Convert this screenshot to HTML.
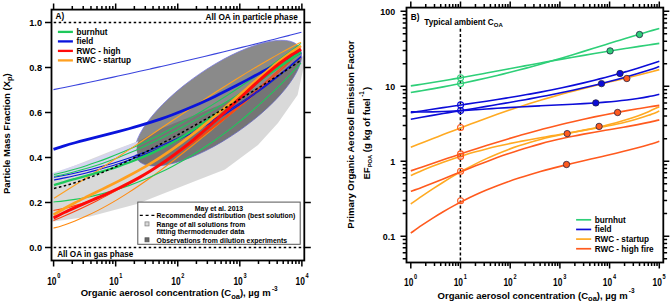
<!DOCTYPE html>
<html><head><meta charset="utf-8"><style>
html,body{margin:0;padding:0;background:#fff;width:671px;height:303px;overflow:hidden}
svg{display:block}
text{font-family:"Liberation Sans", sans-serif;font-variant-ligatures:none}
</style></head><body><svg width="671" height="303" viewBox="0 0 671 303" font-family='"Liberation Sans", sans-serif' fill="#000"><defs><clipPath id="clipL"><rect x="51.5" y="9.6" width="252.8" height="250.9"/></clipPath>
<clipPath id="clipR"><rect x="406.5" y="7.5" width="257" height="255.5"/></clipPath></defs>
<g clip-path="url(#clipL)">
<ellipse cx="218.2" cy="103.1" rx="98.5" ry="34.6" transform="rotate(-34.67 218.2 103.1)" fill="#8a8a8a" stroke="#7a7ae0" stroke-width="0.9" stroke-opacity="0.8"/>
<path d="M51 222 L53.5 221.4 L90.0 216.4 L137.0 204.0 L198.0 180.0 L225.0 169.5 L258.0 145.0 L278.0 123.0 L297.6 95.0 L303.0 70.0 L305 68 L305 55 L303.0 56.0 L275.0 79.0 L220.0 105.0 L160.0 129.0 L140.0 140.5 L110.0 151.5 L53.5 174.0 L51 174 Z" fill="#000" fill-opacity="0.15"/>
<path d="M51.0 173.5 L90.0 160.5 L138.5 141.0 L137.0 145.0 L136.5 150.0 L137.5 154.0 L90.0 169.5 L51.0 178.5 Z" fill="#d6d6ef"/>
<path d="M53.50 89.65 C55.30 89.28 60.69 88.19 64.28 87.45 C67.87 86.72 71.46 85.98 75.06 85.23 C78.65 84.48 82.24 83.73 85.83 82.98 C89.43 82.22 93.02 81.46 96.61 80.70 C100.21 79.94 103.80 79.17 107.39 78.39 C110.98 77.62 114.58 76.84 118.17 76.06 C121.76 75.28 125.36 74.49 128.95 73.70 C132.54 72.91 136.13 72.12 139.73 71.32 C143.32 70.52 146.91 69.71 150.50 68.90 C154.10 68.09 157.69 67.28 161.28 66.46 C164.88 65.64 168.47 64.82 172.06 63.99 C175.65 63.16 179.25 62.33 182.84 61.50 C186.43 60.66 190.02 59.82 193.62 58.97 C197.21 58.13 200.80 57.28 204.40 56.42 C207.99 55.57 211.58 54.71 215.17 53.85 C218.77 52.98 222.36 52.12 225.95 51.24 C229.54 50.37 233.14 49.49 236.73 48.61 C240.32 47.73 243.92 46.84 247.51 45.95 C251.10 45.06 254.69 44.17 258.29 43.27 C261.88 42.37 265.47 41.46 269.07 40.56 C272.66 39.65 276.25 38.73 279.84 37.82 C283.44 36.90 287.03 35.98 290.62 35.05 C294.21 34.12 299.60 32.72 301.40 32.25" fill="none" stroke="#3a44dd" stroke-width="1.1" stroke-linecap="butt" stroke-linejoin="round" />
<path d="M53.50 228.18 C55.29 227.64 60.67 226.11 64.26 224.90 C67.85 223.70 71.43 222.37 75.02 220.94 C78.61 219.51 82.20 217.97 85.78 216.34 C89.37 214.70 92.96 212.96 96.54 211.13 C100.13 209.31 103.72 207.38 107.30 205.38 C110.89 203.37 114.48 201.28 118.07 199.11 C121.65 196.94 125.24 194.69 128.83 192.38 C132.41 190.07 136.00 187.67 139.59 185.23 C143.17 182.78 146.76 180.26 150.35 177.70 C153.93 175.13 157.52 172.51 161.11 169.84 C164.70 167.17 168.28 164.44 171.87 161.69 C175.46 158.93 179.04 156.13 182.63 153.30 C186.22 150.46 189.80 147.59 193.39 144.70 C196.98 141.81 200.57 138.89 204.15 135.96 C207.74 133.02 211.33 130.06 214.91 127.10 C218.50 124.13 222.09 121.15 225.67 118.17 C229.26 115.19 232.85 112.21 236.43 109.23 C240.02 106.25 243.61 103.27 247.20 100.30 C250.78 97.34 254.37 94.38 257.96 91.44 C261.54 88.51 265.13 85.59 268.72 82.70 C272.30 79.81 275.89 76.93 279.48 74.10 C283.07 71.27 286.65 68.47 290.24 65.71 C293.83 62.95 299.21 58.92 301.00 57.56" fill="none" stroke="#ff8a10" stroke-width="1.1" stroke-linecap="butt" stroke-linejoin="round" />
<path d="M53.50 201.98 C55.29 201.80 60.67 201.32 64.26 200.88 C67.85 200.45 71.43 199.95 75.02 199.38 C78.61 198.81 82.20 198.18 85.78 197.47 C89.37 196.76 92.96 195.99 96.54 195.14 C100.13 194.30 103.72 193.38 107.30 192.40 C110.89 191.41 114.48 190.35 118.07 189.22 C121.65 188.09 125.24 186.89 128.83 185.61 C132.41 184.33 136.00 182.99 139.59 181.56 C143.17 180.13 146.76 178.63 150.35 177.06 C153.93 175.48 157.52 173.83 161.11 172.10 C164.70 170.37 168.28 168.57 171.87 166.68 C175.46 164.80 179.04 162.83 182.63 160.79 C186.22 158.75 189.80 156.63 193.39 154.42 C196.98 152.22 200.57 149.94 204.15 147.58 C207.74 145.21 211.33 142.76 214.91 140.24 C218.50 137.71 222.09 135.09 225.67 132.40 C229.26 129.70 232.85 126.92 236.43 124.06 C240.02 121.19 243.61 118.24 247.20 115.21 C250.78 112.17 254.37 109.05 257.96 105.84 C261.54 102.63 265.13 99.33 268.72 95.94 C272.30 92.56 275.89 89.08 279.48 85.52 C283.07 81.95 286.65 78.30 290.24 74.55 C293.83 70.81 299.21 64.96 301.00 63.05" fill="none" stroke="#1ec85a" stroke-width="1.1" stroke-linecap="butt" stroke-linejoin="round" />
<path d="M53.50 210.50 C55.29 210.14 60.67 209.17 64.26 208.35 C67.85 207.54 71.43 206.62 75.02 205.60 C78.61 204.59 82.20 203.47 85.78 202.27 C89.37 201.07 92.96 199.77 96.54 198.38 C100.13 197.00 103.72 195.52 107.30 193.96 C110.89 192.40 114.48 190.76 118.07 189.03 C121.65 187.31 125.24 185.50 128.83 183.61 C132.41 181.73 136.00 179.76 139.59 177.73 C143.17 175.69 146.76 173.58 150.35 171.41 C153.93 169.23 157.52 166.98 161.11 164.66 C164.70 162.35 168.28 159.97 171.87 157.52 C175.46 155.08 179.04 152.58 182.63 150.01 C186.22 147.45 189.80 144.83 193.39 142.15 C196.98 139.48 200.57 136.75 204.15 133.97 C207.74 131.19 211.33 128.36 214.91 125.48 C218.50 122.60 222.09 119.67 225.67 116.71 C229.26 113.74 232.85 110.73 236.43 107.68 C240.02 104.63 243.61 101.54 247.20 98.42 C250.78 95.30 254.37 92.13 257.96 88.94 C261.54 85.76 265.13 82.53 268.72 79.28 C272.30 76.03 275.89 72.75 279.48 69.45 C283.07 66.15 286.65 62.83 290.24 59.48 C293.83 56.14 299.21 51.08 301.00 49.39" fill="none" stroke="#ff4010" stroke-width="1.1" stroke-linecap="butt" stroke-linejoin="round" />
<path d="M53.50 220.61 C55.29 219.84 60.67 217.58 64.26 216.01 C67.85 214.45 71.43 212.84 75.02 211.20 C78.61 209.56 82.20 207.88 85.78 206.16 C89.37 204.44 92.96 202.69 96.54 200.89 C100.13 199.09 103.72 197.26 107.30 195.38 C110.89 193.51 114.48 191.60 118.07 189.64 C121.65 187.68 125.24 185.69 128.83 183.65 C132.41 181.61 136.00 179.53 139.59 177.41 C143.17 175.29 146.76 173.13 150.35 170.92 C153.93 168.71 157.52 166.46 161.11 164.17 C164.70 161.87 168.28 159.53 171.87 157.15 C175.46 154.77 179.04 152.34 182.63 149.87 C186.22 147.40 189.80 144.88 193.39 142.31 C196.98 139.75 200.57 137.14 204.15 134.48 C207.74 131.82 211.33 129.12 214.91 126.36 C218.50 123.61 222.09 120.81 225.67 117.96 C229.26 115.11 232.85 112.21 236.43 109.26 C240.02 106.32 243.61 103.32 247.20 100.27 C250.78 97.22 254.37 94.13 257.96 90.98 C261.54 87.83 265.13 84.63 268.72 81.38 C272.30 78.13 275.89 74.83 279.48 71.47 C283.07 68.11 286.65 64.71 290.24 61.25 C293.83 57.78 299.21 52.46 301.00 50.70" fill="none" stroke="#ff4010" stroke-width="1.1" stroke-linecap="butt" stroke-linejoin="round" />
<path d="M54.00 177.24 C55.79 176.90 61.16 175.94 64.74 175.24 C68.32 174.53 71.90 173.78 75.48 173.00 C79.06 172.21 82.64 171.38 86.22 170.51 C89.80 169.64 93.38 168.73 96.96 167.78 C100.54 166.82 104.12 165.82 107.70 164.78 C111.28 163.73 114.86 162.64 118.43 161.51 C122.01 160.37 125.59 159.19 129.17 157.96 C132.75 156.73 136.33 155.45 139.91 154.12 C143.49 152.80 147.07 151.42 150.65 149.99 C154.23 148.57 157.81 147.09 161.39 145.56 C164.97 144.03 168.55 142.45 172.13 140.81 C175.71 139.18 179.29 137.49 182.87 135.75 C186.45 134.00 190.03 132.21 193.61 130.35 C197.19 128.50 200.77 126.59 204.35 124.62 C207.93 122.65 211.51 120.63 215.09 118.55 C218.67 116.46 222.25 114.32 225.83 112.12 C229.41 109.91 232.99 107.65 236.57 105.33 C240.14 103.00 243.72 100.62 247.30 98.17 C250.88 95.72 254.46 93.20 258.04 90.63 C261.62 88.05 265.20 85.41 268.78 82.70 C272.36 79.99 275.94 77.22 279.52 74.38 C283.10 71.54 286.68 68.63 290.26 65.66 C293.84 62.68 299.21 58.05 301.00 56.52" fill="none" stroke="#0a14dc" stroke-width="1.1" stroke-linecap="butt" stroke-linejoin="round" />
<path d="M54.00 179.98 C55.79 179.63 61.16 178.61 64.74 177.87 C68.32 177.13 71.90 176.36 75.48 175.54 C79.06 174.72 82.64 173.87 86.22 172.97 C89.80 172.07 93.38 171.14 96.96 170.15 C100.54 169.17 104.12 168.15 107.70 167.08 C111.28 166.01 114.86 164.90 118.43 163.74 C122.01 162.59 125.59 161.38 129.17 160.13 C132.75 158.88 136.33 157.58 139.91 156.23 C143.49 154.89 147.07 153.49 150.65 152.04 C154.23 150.59 157.81 149.10 161.39 147.55 C164.97 146.00 168.55 144.39 172.13 142.74 C175.71 141.08 179.29 139.37 182.87 137.61 C186.45 135.84 190.03 134.02 193.61 132.14 C197.19 130.26 200.77 128.33 204.35 126.33 C207.93 124.34 211.51 122.29 215.09 120.18 C218.67 118.06 222.25 115.89 225.83 113.66 C229.41 111.42 232.99 109.13 236.57 106.77 C240.14 104.40 243.72 101.98 247.30 99.49 C250.88 97.01 254.46 94.45 258.04 91.83 C261.62 89.21 265.20 86.53 268.78 83.77 C272.36 81.02 275.94 78.20 279.52 75.30 C283.10 72.41 286.68 69.45 290.26 66.42 C293.84 63.38 299.21 58.65 301.00 57.10" fill="none" stroke="#0a14dc" stroke-width="1.1" stroke-linecap="butt" stroke-linejoin="round" />
<path d="M54.00 174.57 C55.79 174.13 61.16 172.89 64.74 171.96 C68.32 171.03 71.90 170.04 75.48 169.00 C79.06 167.95 82.64 166.85 86.22 165.70 C89.80 164.54 93.38 163.33 96.96 162.07 C100.54 160.81 104.12 159.49 107.70 158.12 C111.28 156.75 114.86 155.33 118.43 153.86 C122.01 152.39 125.59 150.86 129.17 149.30 C132.75 147.73 136.33 146.11 139.91 144.44 C143.49 142.78 147.07 141.06 150.65 139.31 C154.23 137.55 157.81 135.75 161.39 133.90 C164.97 132.06 168.55 130.16 172.13 128.23 C175.71 126.30 179.29 124.33 182.87 122.31 C186.45 120.30 190.03 118.24 193.61 116.15 C197.19 114.06 200.77 111.92 204.35 109.76 C207.93 107.59 211.51 105.38 215.09 103.14 C218.67 100.90 222.25 98.62 225.83 96.31 C229.41 94.00 232.99 91.65 236.57 89.27 C240.14 86.89 243.72 84.48 247.30 82.04 C250.88 79.60 254.46 77.13 258.04 74.63 C261.62 72.13 265.20 69.60 268.78 67.05 C272.36 64.49 275.94 61.91 279.52 59.30 C283.10 56.69 286.68 54.05 290.26 51.39 C293.84 48.73 299.21 44.69 301.00 43.34" fill="none" stroke="#1ec85a" stroke-width="1.1" stroke-linecap="butt" stroke-linejoin="round" />
<path d="M54.00 176.38 C55.79 176.01 61.16 174.97 64.74 174.17 C68.32 173.37 71.90 172.49 75.48 171.56 C79.06 170.62 82.64 169.62 86.22 168.57 C89.80 167.51 93.38 166.38 96.96 165.21 C100.54 164.03 104.12 162.79 107.70 161.50 C111.28 160.20 114.86 158.85 118.43 157.45 C122.01 156.05 125.59 154.59 129.17 153.09 C132.75 151.59 136.33 150.03 139.91 148.43 C143.49 146.82 147.07 145.17 150.65 143.48 C154.23 141.78 157.81 140.04 161.39 138.26 C164.97 136.48 168.55 134.65 172.13 132.78 C175.71 130.92 179.29 129.01 182.87 127.07 C186.45 125.13 190.03 123.15 193.61 121.14 C197.19 119.13 200.77 117.08 204.35 115.00 C207.93 112.92 211.51 110.81 215.09 108.67 C218.67 106.54 222.25 104.37 225.83 102.17 C229.41 99.98 232.99 97.76 236.57 95.51 C240.14 93.27 243.72 91.00 247.30 88.71 C250.88 86.42 254.46 84.11 258.04 81.79 C261.62 79.46 265.20 77.11 268.78 74.75 C272.36 72.39 275.94 70.01 279.52 67.62 C283.10 65.23 286.68 62.83 290.26 60.42 C293.84 58.00 299.21 54.36 301.00 53.15" fill="none" stroke="#1ec85a" stroke-width="1.1" stroke-linecap="butt" stroke-linejoin="round" />
<path d="M54.00 198.19 C55.79 197.08 61.16 193.81 64.74 191.58 C68.32 189.36 71.90 187.11 75.48 184.84 C79.06 182.57 82.64 180.28 86.22 177.97 C89.80 175.67 93.38 173.34 96.96 171.01 C100.54 168.67 104.12 166.32 107.70 163.95 C111.28 161.59 114.86 159.22 118.43 156.83 C122.01 154.45 125.59 152.06 129.17 149.66 C132.75 147.27 136.33 144.86 139.91 142.46 C143.49 140.05 147.07 137.64 150.65 135.23 C154.23 132.83 157.81 130.42 161.39 128.01 C164.97 125.61 168.55 123.21 172.13 120.81 C175.71 118.42 179.29 116.02 182.87 113.64 C186.45 111.27 190.03 108.89 193.61 106.53 C197.19 104.17 200.77 101.82 204.35 99.49 C207.93 97.16 211.51 94.84 215.09 92.54 C218.67 90.24 222.25 87.95 225.83 85.69 C229.41 83.42 232.99 81.18 236.57 78.96 C240.14 76.74 243.72 74.54 247.30 72.38 C250.88 70.21 254.46 68.06 258.04 65.95 C261.62 63.83 265.20 61.75 268.78 59.70 C272.36 57.64 275.94 55.62 279.52 53.64 C283.10 51.65 286.68 49.70 290.26 47.79 C293.84 45.87 299.21 43.10 301.00 42.16" fill="none" stroke="#ffa020" stroke-width="1.1" stroke-linecap="butt" stroke-linejoin="round" />
<path d="M53.50 149.39 C55.29 148.80 60.67 146.99 64.26 145.88 C67.85 144.78 71.43 143.75 75.02 142.75 C78.61 141.75 82.20 140.80 85.78 139.86 C89.37 138.92 92.96 138.03 96.54 137.12 C100.13 136.21 103.72 135.32 107.30 134.41 C110.89 133.50 114.48 132.59 118.07 131.65 C121.65 130.71 125.24 129.76 128.83 128.77 C132.41 127.78 136.00 126.76 139.59 125.70 C143.17 124.64 146.76 123.55 150.35 122.40 C153.93 121.26 157.52 120.07 161.11 118.83 C164.70 117.59 168.28 116.30 171.87 114.96 C175.46 113.62 179.04 112.22 182.63 110.77 C186.22 109.33 189.80 107.83 193.39 106.28 C196.98 104.73 200.57 103.12 204.15 101.47 C207.74 99.83 211.33 98.13 214.91 96.39 C218.50 94.66 222.09 92.87 225.67 91.06 C229.26 89.25 232.85 87.40 236.43 85.53 C240.02 83.67 243.61 81.77 247.20 79.87 C250.78 77.97 254.37 76.04 257.96 74.13 C261.54 72.22 265.13 70.30 268.72 68.41 C272.30 66.52 275.89 64.63 279.48 62.80 C283.07 60.96 286.65 59.15 290.24 57.41 C293.83 55.66 299.21 53.19 301.00 52.35" fill="none" stroke="#0a14dc" stroke-width="2.8" stroke-linecap="butt" stroke-linejoin="round" />
<path d="M54.00 185.11 C55.79 184.57 61.16 182.90 64.74 181.86 C68.32 180.81 71.90 179.83 75.48 178.84 C79.06 177.85 82.64 176.90 86.22 175.91 C89.80 174.92 93.38 173.95 96.96 172.92 C100.54 171.90 104.12 170.86 107.70 169.76 C111.28 168.66 114.86 167.53 118.43 166.33 C122.01 165.12 125.59 163.87 129.17 162.53 C132.75 161.19 136.33 159.79 139.91 158.30 C143.49 156.82 147.07 155.25 150.65 153.60 C154.23 151.95 157.81 150.22 161.39 148.39 C164.97 146.57 168.55 144.66 172.13 142.66 C175.71 140.66 179.29 138.58 182.87 136.41 C186.45 134.24 190.03 131.99 193.61 129.66 C197.19 127.34 200.77 124.93 204.35 122.46 C207.93 119.99 211.51 117.44 215.09 114.85 C218.67 112.26 222.25 109.60 225.83 106.92 C229.41 104.24 232.99 101.50 236.57 98.75 C240.14 96.01 243.72 93.22 247.30 90.46 C250.88 87.69 254.46 84.91 258.04 82.17 C261.62 79.43 265.20 76.69 268.78 74.02 C272.36 71.36 275.94 68.72 279.52 66.19 C283.10 63.66 286.68 61.18 290.26 58.84 C293.84 56.51 299.21 53.29 301.00 52.19" fill="none" stroke="#1ec85a" stroke-width="2.3" stroke-linecap="butt" stroke-linejoin="round" />
<path d="M53.50 214.75 C55.29 213.70 60.67 210.47 64.26 208.46 C67.85 206.46 71.43 204.57 75.02 202.71 C78.61 200.85 82.20 199.07 85.78 197.29 C89.37 195.51 92.96 193.78 96.54 192.03 C100.13 190.28 103.72 188.55 107.30 186.78 C110.89 185.00 114.48 183.23 118.07 181.40 C121.65 179.57 125.24 177.71 128.83 175.79 C132.41 173.86 136.00 171.90 139.59 169.85 C143.17 167.81 146.76 165.71 150.35 163.53 C153.93 161.35 157.52 159.09 161.11 156.76 C164.70 154.43 168.28 152.02 171.87 149.53 C175.46 147.04 179.04 144.47 182.63 141.83 C186.22 139.19 189.80 136.46 193.39 133.67 C196.98 130.89 200.57 128.02 204.15 125.10 C207.74 122.19 211.33 119.20 214.91 116.18 C218.50 113.15 222.09 110.07 225.67 106.97 C229.26 103.87 232.85 100.73 236.43 97.59 C240.02 94.45 243.61 91.28 247.20 88.15 C250.78 85.02 254.37 81.88 257.96 78.81 C261.54 75.74 265.13 72.67 268.72 69.72 C272.30 66.76 275.89 63.84 279.48 61.06 C283.07 58.29 286.65 55.58 290.24 53.06 C293.83 50.53 299.21 47.11 301.00 45.93" fill="none" stroke="#ffa020" stroke-width="2.7" stroke-linecap="butt" stroke-linejoin="round" />
<path d="M53.50 217.92 C55.29 217.02 60.67 214.23 64.26 212.50 C67.85 210.78 71.43 209.17 75.02 207.56 C78.61 205.96 82.20 204.43 85.78 202.88 C89.37 201.32 92.96 199.81 96.54 198.25 C100.13 196.69 103.72 195.13 107.30 193.51 C110.89 191.89 114.48 190.25 118.07 188.52 C121.65 186.80 125.24 185.03 128.83 183.16 C132.41 181.30 136.00 179.37 139.59 177.34 C143.17 175.31 146.76 173.20 150.35 170.99 C153.93 168.77 157.52 166.47 161.11 164.06 C164.70 161.65 168.28 159.14 171.87 156.54 C175.46 153.94 179.04 151.23 182.63 148.44 C186.22 145.65 189.80 142.76 193.39 139.80 C196.98 136.84 200.57 133.78 204.15 130.67 C207.74 127.56 211.33 124.37 214.91 121.14 C218.50 117.92 222.09 114.62 225.67 111.32 C229.26 108.02 232.85 104.67 236.43 101.35 C240.02 98.03 243.61 94.68 247.20 91.39 C250.78 88.10 254.37 84.81 257.96 81.62 C261.54 78.43 265.13 75.27 268.72 72.26 C272.30 69.25 275.89 66.30 279.48 63.55 C283.07 60.80 286.65 58.15 290.24 55.75 C293.83 53.35 299.21 50.25 301.00 49.15" fill="none" stroke="#ff0a0a" stroke-width="3.0" stroke-linecap="butt" stroke-linejoin="round" />
<path d="M54.00 188.45 C55.79 188.00 61.16 186.76 64.74 185.78 C68.32 184.80 71.90 183.71 75.48 182.55 C79.06 181.40 82.64 180.15 86.22 178.83 C89.80 177.52 93.38 176.13 96.96 174.69 C100.54 173.25 104.12 171.73 107.70 170.17 C111.28 168.62 114.86 167.00 118.43 165.34 C122.01 163.69 125.59 161.98 129.17 160.25 C132.75 158.51 136.33 156.73 139.91 154.92 C143.49 153.12 147.07 151.27 150.65 149.41 C154.23 147.55 157.81 145.65 161.39 143.74 C164.97 141.83 168.55 139.90 172.13 137.94 C175.71 135.99 179.29 134.02 182.87 132.03 C186.45 130.05 190.03 128.05 193.61 126.03 C197.19 124.01 200.77 121.98 204.35 119.94 C207.93 117.90 211.51 115.84 215.09 113.77 C218.67 111.70 222.25 109.62 225.83 107.52 C229.41 105.42 232.99 103.30 236.57 101.17 C240.14 99.04 243.72 96.90 247.30 94.73 C250.88 92.56 254.46 90.38 258.04 88.17 C261.62 85.96 265.20 83.73 268.78 81.46 C272.36 79.20 275.94 76.91 279.52 74.59 C283.10 72.26 286.68 69.91 290.26 67.51 C293.84 65.11 299.21 61.41 301.00 60.19" fill="none" stroke="#000" stroke-width="1.5" stroke-linecap="butt" stroke-linejoin="round" stroke-dasharray="2.6 2.4"/>
</g>
<line x1="53.7" y1="22.6" x2="304" y2="22.6" stroke="#000" stroke-width="1.5" stroke-dasharray="2.5 2.5"/>
<line x1="53.7" y1="247.4" x2="304" y2="247.4" stroke="#000" stroke-width="1.5" stroke-dasharray="2.5 2.5"/>
<rect x="51.5" y="9.6" width="252.8" height="250.9" fill="none" stroke="#000" stroke-width="1.8"/>
<path d="M53.60 260.50 V266.50 M53.60 9.60 V3.60 M72.28 260.50 V264.00 M72.28 9.60 V6.10 M83.21 260.50 V264.00 M83.21 9.60 V6.10 M90.97 260.50 V264.00 M90.97 9.60 V6.10 M96.99 260.50 V264.00 M96.99 9.60 V6.10 M101.90 260.50 V264.00 M101.90 9.60 V6.10 M106.06 260.50 V264.00 M106.06 9.60 V6.10 M109.65 260.50 V264.00 M109.65 9.60 V6.10 M112.83 260.50 V264.00 M112.83 9.60 V6.10 M115.67 260.50 V266.50 M115.67 9.60 V3.60 M134.35 260.50 V264.00 M134.35 9.60 V6.10 M145.28 260.50 V264.00 M145.28 9.60 V6.10 M153.04 260.50 V264.00 M153.04 9.60 V6.10 M159.06 260.50 V264.00 M159.06 9.60 V6.10 M163.97 260.50 V264.00 M163.97 9.60 V6.10 M168.13 260.50 V264.00 M168.13 9.60 V6.10 M171.72 260.50 V264.00 M171.72 9.60 V6.10 M174.90 260.50 V264.00 M174.90 9.60 V6.10 M177.74 260.50 V266.50 M177.74 9.60 V3.60 M196.42 260.50 V264.00 M196.42 9.60 V6.10 M207.35 260.50 V264.00 M207.35 9.60 V6.10 M215.11 260.50 V264.00 M215.11 9.60 V6.10 M221.13 260.50 V264.00 M221.13 9.60 V6.10 M226.04 260.50 V264.00 M226.04 9.60 V6.10 M230.20 260.50 V264.00 M230.20 9.60 V6.10 M233.79 260.50 V264.00 M233.79 9.60 V6.10 M236.97 260.50 V264.00 M236.97 9.60 V6.10 M239.81 260.50 V266.50 M239.81 9.60 V3.60 M258.49 260.50 V264.00 M258.49 9.60 V6.10 M269.42 260.50 V264.00 M269.42 9.60 V6.10 M277.18 260.50 V264.00 M277.18 9.60 V6.10 M283.20 260.50 V264.00 M283.20 9.60 V6.10 M288.11 260.50 V264.00 M288.11 9.60 V6.10 M292.27 260.50 V264.00 M292.27 9.60 V6.10 M295.86 260.50 V264.00 M295.86 9.60 V6.10 M299.04 260.50 V264.00 M299.04 9.60 V6.10 M301.88 260.50 V266.50 M301.88 9.60 V3.60 M51.50 247.40 H45.00 M304.30 247.40 H310.80 M51.50 202.44 H45.00 M304.30 202.44 H310.80 M51.50 157.48 H45.00 M304.30 157.48 H310.80 M51.50 112.52 H45.00 M304.30 112.52 H310.80 M51.50 67.56 H45.00 M304.30 67.56 H310.80 M51.50 22.60 H45.00 M304.30 22.60 H310.80" stroke="#000" stroke-width="1.5" fill="none"/>
<text transform="translate(42.00 250.70) scale(1 1.000)" font-size="9.2" font-weight="bold" text-anchor="end">0.0</text>
<text transform="translate(42.00 205.74) scale(1 1.000)" font-size="9.2" font-weight="bold" text-anchor="end">0.2</text>
<text transform="translate(42.00 160.78) scale(1 1.000)" font-size="9.2" font-weight="bold" text-anchor="end">0.4</text>
<text transform="translate(42.00 115.82) scale(1 1.000)" font-size="9.2" font-weight="bold" text-anchor="end">0.6</text>
<text transform="translate(42.00 70.86) scale(1 1.000)" font-size="9.2" font-weight="bold" text-anchor="end">0.8</text>
<text transform="translate(42.00 25.90) scale(1 1.000)" font-size="9.2" font-weight="bold" text-anchor="end">1.0</text>
<text transform="translate(47.20 284.90) scale(1 1.200)" font-size="8.4" font-weight="bold" text-anchor="start">10</text>
<text transform="translate(57.20 277.60) scale(1 1.160)" font-size="5.6" font-weight="bold" text-anchor="start">0</text>
<text transform="translate(109.27 284.90) scale(1 1.200)" font-size="8.4" font-weight="bold" text-anchor="start">10</text>
<text transform="translate(119.27 277.60) scale(1 1.160)" font-size="5.6" font-weight="bold" text-anchor="start">1</text>
<text transform="translate(171.34 284.90) scale(1 1.200)" font-size="8.4" font-weight="bold" text-anchor="start">10</text>
<text transform="translate(181.34 277.60) scale(1 1.160)" font-size="5.6" font-weight="bold" text-anchor="start">2</text>
<text transform="translate(233.41 284.90) scale(1 1.200)" font-size="8.4" font-weight="bold" text-anchor="start">10</text>
<text transform="translate(243.41 277.60) scale(1 1.160)" font-size="5.6" font-weight="bold" text-anchor="start">3</text>
<text transform="translate(295.48 284.90) scale(1 1.200)" font-size="8.4" font-weight="bold" text-anchor="start">10</text>
<text transform="translate(305.48 277.60) scale(1 1.160)" font-size="5.6" font-weight="bold" text-anchor="start">4</text>
<text x="80.7" y="296.4" font-size="9.5" font-weight="bold">Organic aerosol concentration (C<tspan font-size="7.5" dy="2.2">oa</tspan><tspan dy="-2.2">), µg m</tspan><tspan font-size="6.4" dy="-5.6" dx="1.2">-3</tspan></text>
<text transform="translate(9.6 194) rotate(-90)" font-size="9.5" font-weight="bold">Particle Mass Fraction (X<tspan font-size="7.5" dy="2.2">p</tspan><tspan dy="-2.2">)</tspan></text>
<text x="55.60" y="18.50" font-size="8.2" font-weight="bold" text-anchor="start" >A)</text>
<text x="297.90" y="19.80" font-size="8.25" font-weight="bold" text-anchor="end" >All OA in particle phase</text>
<text x="57.20" y="256.70" font-size="8.15" font-weight="bold" text-anchor="start" >All OA in gas phase</text>
<line x1="57.9" y1="31.90" x2="72.9" y2="31.90" stroke="#1ec85a" stroke-width="2.3"/>
<text x="76.50" y="34.90" font-size="8.2" font-weight="bold" text-anchor="start" >burnhut</text>
<line x1="57.9" y1="41.40" x2="72.9" y2="41.40" stroke="#0a14dc" stroke-width="2.3"/>
<text x="76.50" y="44.40" font-size="8.2" font-weight="bold" text-anchor="start" >field</text>
<line x1="57.9" y1="50.90" x2="72.9" y2="50.90" stroke="#ff0a0a" stroke-width="2.3"/>
<text x="76.50" y="53.90" font-size="8.2" font-weight="bold" text-anchor="start" >RWC - high</text>
<line x1="57.9" y1="60.40" x2="72.9" y2="60.40" stroke="#ffa020" stroke-width="2.3"/>
<text x="76.50" y="63.40" font-size="8.2" font-weight="bold" text-anchor="start" >RWC - startup</text>
<rect x="137.8" y="202.1" width="162.4" height="42.2" fill="#fff" stroke="#555" stroke-width="1"/>
<text x="219.00" y="210.50" font-size="6.9" font-weight="bold" text-anchor="middle" >May et al. 2013</text>
<line x1="139.8" y1="215.4" x2="154.5" y2="215.4" stroke="#000" stroke-width="1.2" stroke-dasharray="3 2.8"/>
<text x="156.60" y="218.30" font-size="6.9" font-weight="bold" text-anchor="start" >Recommended distribution (best solution)</text>
<rect x="145" y="221.9" width="4" height="4" fill="#d8d8d8" stroke="#888" stroke-width="0.8"/>
<text x="156.60" y="226.70" font-size="6.9" font-weight="bold" text-anchor="start" >Range of all solutions from</text>
<text x="156.60" y="234.20" font-size="6.9" font-weight="bold" text-anchor="start" >fitting thermodenuder data</text>
<rect x="145" y="237.8" width="4" height="4" fill="#6a6a6a" stroke="#555" stroke-width="0.8"/>
<text x="156.60" y="242.60" font-size="6.9" font-weight="bold" text-anchor="start" >Observations from dilution experiments</text>
<g clip-path="url(#clipR)">
<line x1="460.4" y1="28.8" x2="460.4" y2="263" stroke="#000" stroke-width="1.5" stroke-dasharray="3 2.2"/>
<path d="M410.80 147.22 C412.60 146.52 418.00 144.44 421.60 143.04 C425.21 141.65 428.81 140.23 432.41 138.82 C436.01 137.42 439.61 136.00 443.21 134.60 C446.81 133.19 450.42 131.78 454.02 130.39 C457.62 129.00 461.22 127.61 464.82 126.24 C468.42 124.87 472.02 123.51 475.63 122.17 C479.23 120.83 482.83 119.50 486.43 118.19 C490.03 116.89 493.63 115.60 497.23 114.34 C500.84 113.07 504.44 111.83 508.04 110.61 C511.64 109.39 515.24 108.19 518.84 107.02 C522.44 105.85 526.05 104.70 529.65 103.57 C533.25 102.45 536.85 101.35 540.45 100.27 C544.05 99.19 547.66 98.14 551.26 97.11 C554.86 96.08 558.46 95.07 562.06 94.08 C565.66 93.09 569.26 92.13 572.87 91.18 C576.47 90.23 580.07 89.30 583.67 88.38 C587.27 87.46 590.87 86.56 594.47 85.67 C598.08 84.77 601.68 83.89 605.28 83.02 C608.88 82.14 612.48 81.28 616.08 80.41 C619.68 79.54 623.29 78.67 626.89 77.80 C630.49 76.92 634.09 76.05 637.69 75.16 C641.29 74.27 644.89 73.37 648.50 72.45 C652.10 71.53 657.50 70.09 659.30 69.62" fill="none" stroke="#ffaa22" stroke-width="1.6" stroke-linecap="butt" stroke-linejoin="round" />
<path d="M410.80 175.51 C412.60 174.72 418.00 172.29 421.60 170.76 C425.21 169.23 428.81 167.75 432.41 166.33 C436.01 164.91 439.61 163.54 443.21 162.23 C446.81 160.91 450.42 159.66 454.02 158.45 C457.62 157.24 461.22 156.09 464.82 154.99 C468.42 153.88 472.02 152.83 475.63 151.82 C479.23 150.82 482.83 149.86 486.43 148.94 C490.03 148.03 493.63 147.16 497.23 146.32 C500.84 145.49 504.44 144.70 508.04 143.93 C511.64 143.17 515.24 142.44 518.84 141.74 C522.44 141.03 526.05 140.36 529.65 139.70 C533.25 139.04 536.85 138.40 540.45 137.77 C544.05 137.14 547.66 136.53 551.26 135.91 C554.86 135.29 558.46 134.69 562.06 134.06 C565.66 133.44 569.26 132.82 572.87 132.17 C576.47 131.52 580.07 130.86 583.67 130.16 C587.27 129.46 590.87 128.75 594.47 127.98 C598.08 127.21 601.68 126.41 605.28 125.54 C608.88 124.67 612.48 123.76 616.08 122.77 C619.68 121.78 623.29 120.74 626.89 119.59 C630.49 118.45 634.09 117.24 637.69 115.91 C641.29 114.59 644.89 113.18 648.50 111.64 C652.10 110.09 657.50 107.49 659.30 106.67" fill="none" stroke="#ffaa22" stroke-width="1.6" stroke-linecap="butt" stroke-linejoin="round" />
<path d="M410.80 203.99 C412.60 202.73 418.00 198.91 421.60 196.44 C425.21 193.97 428.81 191.54 432.41 189.17 C436.01 186.80 439.61 184.47 443.21 182.22 C446.81 179.97 450.42 177.78 454.02 175.66 C457.62 173.55 461.22 171.50 464.82 169.53 C468.42 167.56 472.02 165.66 475.63 163.84 C479.23 162.03 482.83 160.29 486.43 158.63 C490.03 156.97 493.63 155.39 497.23 153.89 C500.84 152.39 504.44 150.97 508.04 149.63 C511.64 148.28 515.24 147.02 518.84 145.82 C522.44 144.63 526.05 143.51 529.65 142.45 C533.25 141.39 536.85 140.41 540.45 139.47 C544.05 138.54 547.66 137.67 551.26 136.84 C554.86 136.01 558.46 135.24 562.06 134.50 C565.66 133.75 569.26 133.06 572.87 132.37 C576.47 131.68 580.07 131.04 583.67 130.38 C587.27 129.72 590.87 129.09 594.47 128.43 C598.08 127.77 601.68 127.12 605.28 126.42 C608.88 125.72 612.48 125.02 616.08 124.24 C619.68 123.46 623.29 122.66 626.89 121.76 C630.49 120.86 634.09 119.91 637.69 118.84 C641.29 117.77 644.89 116.62 648.50 115.33 C652.10 114.04 657.50 111.79 659.30 111.08" fill="none" stroke="#ffaa22" stroke-width="1.6" stroke-linecap="butt" stroke-linejoin="round" />
<path d="M410.80 170.88 C412.60 170.27 418.00 168.42 421.60 167.19 C425.21 165.95 428.81 164.72 432.41 163.49 C436.01 162.26 439.61 161.03 443.21 159.81 C446.81 158.59 450.42 157.38 454.02 156.17 C457.62 154.96 461.22 153.76 464.82 152.58 C468.42 151.39 472.02 150.21 475.63 149.05 C479.23 147.88 482.83 146.73 486.43 145.59 C490.03 144.45 493.63 143.33 497.23 142.22 C500.84 141.11 504.44 140.02 508.04 138.94 C511.64 137.87 515.24 136.81 518.84 135.77 C522.44 134.73 526.05 133.71 529.65 132.71 C533.25 131.71 536.85 130.73 540.45 129.76 C544.05 128.80 547.66 127.86 551.26 126.94 C554.86 126.02 558.46 125.12 562.06 124.24 C565.66 123.36 569.26 122.50 572.87 121.66 C576.47 120.83 580.07 120.01 583.67 119.21 C587.27 118.42 590.87 117.64 594.47 116.89 C598.08 116.13 601.68 115.40 605.28 114.69 C608.88 113.97 612.48 113.28 616.08 112.60 C619.68 111.93 623.29 111.27 626.89 110.63 C630.49 110.00 634.09 109.38 637.69 108.77 C641.29 108.17 644.89 107.58 648.50 107.01 C652.10 106.44 657.50 105.62 659.30 105.34" fill="none" stroke="#ff5a1e" stroke-width="1.6" stroke-linecap="butt" stroke-linejoin="round" />
<path d="M410.80 191.30 C412.60 190.66 418.00 188.76 421.60 187.42 C425.21 186.08 428.81 184.68 432.41 183.27 C436.01 181.86 439.61 180.41 443.21 178.95 C446.81 177.50 450.42 176.02 454.02 174.56 C457.62 173.09 461.22 171.62 464.82 170.16 C468.42 168.71 472.02 167.26 475.63 165.84 C479.23 164.41 482.83 163.01 486.43 161.63 C490.03 160.26 493.63 158.92 497.23 157.61 C500.84 156.30 504.44 155.03 508.04 153.80 C511.64 152.57 515.24 151.37 518.84 150.22 C522.44 149.08 526.05 147.97 529.65 146.91 C533.25 145.85 536.85 144.83 540.45 143.86 C544.05 142.89 547.66 141.96 551.26 141.08 C554.86 140.19 558.46 139.35 562.06 138.54 C565.66 137.74 569.26 136.97 572.87 136.24 C576.47 135.50 580.07 134.81 583.67 134.13 C587.27 133.45 590.87 132.80 594.47 132.17 C598.08 131.53 601.68 130.92 605.28 130.30 C608.88 129.69 612.48 129.09 616.08 128.47 C619.68 127.86 623.29 127.25 626.89 126.61 C630.49 125.96 634.09 125.31 637.69 124.61 C641.29 123.91 644.89 123.19 648.50 122.40 C652.10 121.61 657.50 120.29 659.30 119.87" fill="none" stroke="#ff5a1e" stroke-width="1.6" stroke-linecap="butt" stroke-linejoin="round" />
<path d="M410.80 233.11 C412.60 231.83 418.00 227.91 421.60 225.45 C425.21 222.98 428.81 220.61 432.41 218.33 C436.01 216.04 439.61 213.84 443.21 211.73 C446.81 209.61 450.42 207.58 454.02 205.63 C457.62 203.67 461.22 201.80 464.82 200.00 C468.42 198.20 472.02 196.48 475.63 194.83 C479.23 193.17 482.83 191.59 486.43 190.07 C490.03 188.55 493.63 187.11 497.23 185.71 C500.84 184.32 504.44 182.99 508.04 181.71 C511.64 180.43 515.24 179.21 518.84 178.04 C522.44 176.86 526.05 175.74 529.65 174.66 C533.25 173.57 536.85 172.54 540.45 171.53 C544.05 170.52 547.66 169.56 551.26 168.62 C554.86 167.67 558.46 166.77 562.06 165.88 C565.66 164.99 569.26 164.12 572.87 163.27 C576.47 162.41 580.07 161.58 583.67 160.75 C587.27 159.91 590.87 159.09 594.47 158.26 C598.08 157.43 601.68 156.61 605.28 155.77 C608.88 154.93 612.48 154.09 616.08 153.22 C619.68 152.34 623.29 151.46 626.89 150.55 C630.49 149.63 634.09 148.69 637.69 147.71 C641.29 146.73 644.89 145.72 648.50 144.65 C652.10 143.58 657.50 141.86 659.30 141.30" fill="none" stroke="#ff5a1e" stroke-width="1.6" stroke-linecap="butt" stroke-linejoin="round" />
<path d="M410.80 111.79 C412.60 111.82 418.00 111.94 421.60 111.95 C425.21 111.96 428.81 111.90 432.41 111.83 C436.01 111.75 439.61 111.63 443.21 111.49 C446.81 111.35 450.42 111.18 454.02 110.99 C457.62 110.81 461.22 110.60 464.82 110.39 C468.42 110.18 472.02 109.95 475.63 109.72 C479.23 109.49 482.83 109.26 486.43 109.02 C490.03 108.79 493.63 108.55 497.23 108.32 C500.84 108.09 504.44 107.86 508.04 107.64 C511.64 107.42 515.24 107.20 518.84 106.99 C522.44 106.78 526.05 106.58 529.65 106.38 C533.25 106.18 536.85 105.99 540.45 105.80 C544.05 105.62 547.66 105.44 551.26 105.26 C554.86 105.08 558.46 104.90 562.06 104.72 C565.66 104.54 569.26 104.37 572.87 104.18 C576.47 103.99 580.07 103.80 583.67 103.60 C587.27 103.39 590.87 103.17 594.47 102.93 C598.08 102.69 601.68 102.44 605.28 102.15 C608.88 101.86 612.48 101.55 616.08 101.19 C619.68 100.83 623.29 100.44 626.89 100.00 C630.49 99.55 634.09 99.06 637.69 98.50 C641.29 97.94 644.89 97.33 648.50 96.63 C652.10 95.93 657.50 94.69 659.30 94.30" fill="none" stroke="#0c0cd8" stroke-width="1.6" stroke-linecap="butt" stroke-linejoin="round" />
<path d="M410.80 112.77 C412.60 112.47 418.00 111.56 421.60 110.97 C425.21 110.39 428.81 109.82 432.41 109.26 C436.01 108.70 439.61 108.16 443.21 107.62 C446.81 107.07 450.42 106.54 454.02 106.01 C457.62 105.48 461.22 104.95 464.82 104.42 C468.42 103.89 472.02 103.36 475.63 102.82 C479.23 102.29 482.83 101.75 486.43 101.20 C490.03 100.65 493.63 100.10 497.23 99.53 C500.84 98.97 504.44 98.39 508.04 97.80 C511.64 97.21 515.24 96.61 518.84 95.99 C522.44 95.38 526.05 94.75 529.65 94.09 C533.25 93.44 536.85 92.78 540.45 92.09 C544.05 91.40 547.66 90.70 551.26 89.97 C554.86 89.25 558.46 88.50 562.06 87.73 C565.66 86.96 569.26 86.17 572.87 85.36 C576.47 84.55 580.07 83.71 583.67 82.85 C587.27 81.99 590.87 81.11 594.47 80.20 C598.08 79.29 601.68 78.36 605.28 77.41 C608.88 76.46 612.48 75.48 616.08 74.47 C619.68 73.47 623.29 72.45 626.89 71.40 C630.49 70.35 634.09 69.27 637.69 68.18 C641.29 67.08 644.89 65.96 648.50 64.82 C652.10 63.68 657.50 61.92 659.30 61.34" fill="none" stroke="#0c0cd8" stroke-width="1.6" stroke-linecap="butt" stroke-linejoin="round" />
<path d="M410.80 119.19 C412.60 118.87 418.00 117.90 421.60 117.27 C425.21 116.63 428.81 116.01 432.41 115.40 C436.01 114.78 439.61 114.17 443.21 113.56 C446.81 112.96 450.42 112.36 454.02 111.76 C457.62 111.16 461.22 110.57 464.82 109.97 C468.42 109.37 472.02 108.78 475.63 108.18 C479.23 107.59 482.83 106.99 486.43 106.39 C490.03 105.78 493.63 105.18 497.23 104.57 C500.84 103.95 504.44 103.34 508.04 102.71 C511.64 102.09 515.24 101.46 518.84 100.81 C522.44 100.17 526.05 99.52 529.65 98.86 C533.25 98.19 536.85 97.52 540.45 96.83 C544.05 96.14 547.66 95.44 551.26 94.72 C554.86 94.01 558.46 93.27 562.06 92.52 C565.66 91.77 569.26 91.01 572.87 90.22 C576.47 89.43 580.07 88.62 583.67 87.80 C587.27 86.97 590.87 86.12 594.47 85.25 C598.08 84.37 601.68 83.48 605.28 82.56 C608.88 81.63 612.48 80.69 616.08 79.71 C619.68 78.74 623.29 77.74 626.89 76.71 C630.49 75.68 634.09 74.62 637.69 73.53 C641.29 72.44 644.89 71.32 648.50 70.17 C652.10 69.02 657.50 67.20 659.30 66.61" fill="none" stroke="#0c0cd8" stroke-width="1.6" stroke-linecap="butt" stroke-linejoin="round" />
<path d="M410.80 85.91 C412.60 85.64 418.00 84.85 421.60 84.29 C425.21 83.73 428.81 83.16 432.41 82.57 C436.01 81.98 439.61 81.38 443.21 80.77 C446.81 80.15 450.42 79.53 454.02 78.90 C457.62 78.27 461.22 77.62 464.82 76.98 C468.42 76.33 472.02 75.67 475.63 75.01 C479.23 74.36 482.83 73.69 486.43 73.03 C490.03 72.36 493.63 71.69 497.23 71.02 C500.84 70.35 504.44 69.68 508.04 69.01 C511.64 68.33 515.24 67.66 518.84 66.99 C522.44 66.33 526.05 65.66 529.65 64.99 C533.25 64.33 536.85 63.67 540.45 63.01 C544.05 62.35 547.66 61.70 551.26 61.05 C554.86 60.40 558.46 59.75 562.06 59.12 C565.66 58.48 569.26 57.84 572.87 57.22 C576.47 56.59 580.07 55.97 583.67 55.35 C587.27 54.74 590.87 54.13 594.47 53.53 C598.08 52.93 601.68 52.33 605.28 51.74 C608.88 51.15 612.48 50.57 616.08 50.00 C619.68 49.42 623.29 48.85 626.89 48.29 C630.49 47.73 634.09 47.17 637.69 46.62 C641.29 46.07 644.89 45.53 648.50 44.99 C652.10 44.45 657.50 43.66 659.30 43.39" fill="none" stroke="#2ecf78" stroke-width="1.6" stroke-linecap="butt" stroke-linejoin="round" />
<path d="M410.80 92.51 C412.60 92.21 418.00 91.32 421.60 90.71 C425.21 90.10 428.81 89.48 432.41 88.84 C436.01 88.20 439.61 87.55 443.21 86.88 C446.81 86.22 450.42 85.53 454.02 84.83 C457.62 84.12 461.22 83.40 464.82 82.66 C468.42 81.92 472.02 81.16 475.63 80.38 C479.23 79.60 482.83 78.80 486.43 77.98 C490.03 77.16 493.63 76.32 497.23 75.46 C500.84 74.60 504.44 73.72 508.04 72.82 C511.64 71.92 515.24 70.99 518.84 70.05 C522.44 69.11 526.05 68.15 529.65 67.18 C533.25 66.20 536.85 65.20 540.45 64.19 C544.05 63.18 547.66 62.15 551.26 61.10 C554.86 60.06 558.46 59.00 562.06 57.93 C565.66 56.86 569.26 55.78 572.87 54.68 C576.47 53.59 580.07 52.49 583.67 51.38 C587.27 50.27 590.87 49.15 594.47 48.03 C598.08 46.91 601.68 45.79 605.28 44.67 C608.88 43.55 612.48 42.42 616.08 41.31 C619.68 40.19 623.29 39.08 626.89 37.98 C630.49 36.88 634.09 35.78 637.69 34.70 C641.29 33.62 644.89 32.55 648.50 31.51 C652.10 30.47 657.50 28.95 659.30 28.44" fill="none" stroke="#2ecf78" stroke-width="1.6" stroke-linecap="butt" stroke-linejoin="round" />
<circle cx="460.6" cy="77.8" r="3" fill="none" stroke="#2ecf78" stroke-width="1.1"/>
<circle cx="460.6" cy="83.6" r="3" fill="none" stroke="#2ecf78" stroke-width="1.1"/>
<circle cx="460.6" cy="104.9" r="3" fill="none" stroke="#0c0cd8" stroke-width="1.1"/>
<circle cx="460.6" cy="110.6" r="3" fill="none" stroke="#0c0cd8" stroke-width="1.1"/>
<circle cx="460.6" cy="127.5" r="3" fill="none" stroke="#ff5a1e" stroke-width="1.1"/>
<circle cx="460.6" cy="153.9" r="3" fill="none" stroke="#ff5a1e" stroke-width="1.1"/>
<circle cx="460.6" cy="156.4" r="3" fill="none" stroke="#ff5a1e" stroke-width="1.1"/>
<circle cx="460.6" cy="171.3" r="3" fill="none" stroke="#ff5a1e" stroke-width="1.1"/>
<circle cx="460.6" cy="200.8" r="3" fill="none" stroke="#ff5a1e" stroke-width="1.1"/>
<circle cx="610.1" cy="50.9" r="3.2" fill="#2ecf78" stroke="#222244" stroke-width="0.8"/>
<circle cx="639.5" cy="34.5" r="3.2" fill="#2ecf78" stroke="#222244" stroke-width="0.8"/>
<circle cx="620.0" cy="73.5" r="3.2" fill="#0c0cd8" stroke="#222244" stroke-width="0.8"/>
<circle cx="601.5" cy="83.6" r="3.2" fill="#0c0cd8" stroke="#222244" stroke-width="0.8"/>
<circle cx="595.8" cy="102.9" r="3.2" fill="#0c0cd8" stroke="#222244" stroke-width="0.8"/>
<circle cx="626.8" cy="78.5" r="3.2" fill="#ff5a1e" stroke="#222244" stroke-width="0.8"/>
<circle cx="617.6" cy="112.5" r="3.2" fill="#ff5a1e" stroke="#222244" stroke-width="0.8"/>
<circle cx="599.1" cy="126.4" r="3.2" fill="#ff5a1e" stroke="#222244" stroke-width="0.8"/>
<circle cx="567.2" cy="133.6" r="3.2" fill="#ff5a1e" stroke="#222244" stroke-width="0.8"/>
<circle cx="566.5" cy="164.5" r="3.2" fill="#ff5a1e" stroke="#222244" stroke-width="0.8"/>
</g>
<rect x="406.5" y="7.6" width="256.79999999999995" height="254.9" fill="none" stroke="#000" stroke-width="1.8"/>
<path d="M410.80 262.50 V268.50 M410.80 7.60 V1.60 M425.76 262.50 V266.00 M425.76 7.60 V4.10 M434.51 262.50 V266.00 M434.51 7.60 V4.10 M440.72 262.50 V266.00 M440.72 7.60 V4.10 M445.54 262.50 V266.00 M445.54 7.60 V4.10 M449.47 262.50 V266.00 M449.47 7.60 V4.10 M452.80 262.50 V266.00 M452.80 7.60 V4.10 M455.68 262.50 V266.00 M455.68 7.60 V4.10 M458.23 262.50 V266.00 M458.23 7.60 V4.10 M460.50 262.50 V268.50 M460.50 7.60 V1.60 M475.46 262.50 V266.00 M475.46 7.60 V4.10 M484.21 262.50 V266.00 M484.21 7.60 V4.10 M490.42 262.50 V266.00 M490.42 7.60 V4.10 M495.24 262.50 V266.00 M495.24 7.60 V4.10 M499.17 262.50 V266.00 M499.17 7.60 V4.10 M502.50 262.50 V266.00 M502.50 7.60 V4.10 M505.38 262.50 V266.00 M505.38 7.60 V4.10 M507.93 262.50 V266.00 M507.93 7.60 V4.10 M510.20 262.50 V268.50 M510.20 7.60 V1.60 M525.16 262.50 V266.00 M525.16 7.60 V4.10 M533.91 262.50 V266.00 M533.91 7.60 V4.10 M540.12 262.50 V266.00 M540.12 7.60 V4.10 M544.94 262.50 V266.00 M544.94 7.60 V4.10 M548.87 262.50 V266.00 M548.87 7.60 V4.10 M552.20 262.50 V266.00 M552.20 7.60 V4.10 M555.08 262.50 V266.00 M555.08 7.60 V4.10 M557.63 262.50 V266.00 M557.63 7.60 V4.10 M559.90 262.50 V268.50 M559.90 7.60 V1.60 M574.86 262.50 V266.00 M574.86 7.60 V4.10 M583.61 262.50 V266.00 M583.61 7.60 V4.10 M589.82 262.50 V266.00 M589.82 7.60 V4.10 M594.64 262.50 V266.00 M594.64 7.60 V4.10 M598.57 262.50 V266.00 M598.57 7.60 V4.10 M601.90 262.50 V266.00 M601.90 7.60 V4.10 M604.78 262.50 V266.00 M604.78 7.60 V4.10 M607.33 262.50 V266.00 M607.33 7.60 V4.10 M609.60 262.50 V268.50 M609.60 7.60 V1.60 M624.56 262.50 V266.00 M624.56 7.60 V4.10 M633.31 262.50 V266.00 M633.31 7.60 V4.10 M639.52 262.50 V266.00 M639.52 7.60 V4.10 M644.34 262.50 V266.00 M644.34 7.60 V4.10 M648.27 262.50 V266.00 M648.27 7.60 V4.10 M651.60 262.50 V266.00 M651.60 7.60 V4.10 M654.48 262.50 V266.00 M654.48 7.60 V4.10 M657.03 262.50 V266.00 M657.03 7.60 V4.10 M659.30 262.50 V268.50 M659.30 7.60 V1.60 M406.50 258.71 H402.70 M663.30 258.71 H667.10 M406.50 252.78 H402.70 M663.30 252.78 H667.10 M406.50 247.76 H402.70 M663.30 247.76 H667.10 M406.50 243.41 H402.70 M663.30 243.41 H667.10 M406.50 239.58 H402.70 M663.30 239.58 H667.10 M406.50 236.15 H400.50 M663.30 236.15 H669.30 M406.50 213.59 H402.70 M663.30 213.59 H667.10 M406.50 200.39 H402.70 M663.30 200.39 H667.10 M406.50 191.03 H402.70 M663.30 191.03 H667.10 M406.50 183.76 H402.70 M663.30 183.76 H667.10 M406.50 177.83 H402.70 M663.30 177.83 H667.10 M406.50 172.81 H402.70 M663.30 172.81 H667.10 M406.50 168.46 H402.70 M663.30 168.46 H667.10 M406.50 164.63 H402.70 M663.30 164.63 H667.10 M406.50 161.20 H400.50 M663.30 161.20 H669.30 M406.50 138.64 H402.70 M663.30 138.64 H667.10 M406.50 125.44 H402.70 M663.30 125.44 H667.10 M406.50 116.08 H402.70 M663.30 116.08 H667.10 M406.50 108.81 H402.70 M663.30 108.81 H667.10 M406.50 102.88 H402.70 M663.30 102.88 H667.10 M406.50 97.86 H402.70 M663.30 97.86 H667.10 M406.50 93.51 H402.70 M663.30 93.51 H667.10 M406.50 89.68 H402.70 M663.30 89.68 H667.10 M406.50 86.25 H400.50 M663.30 86.25 H669.30 M406.50 63.69 H402.70 M663.30 63.69 H667.10 M406.50 50.49 H402.70 M663.30 50.49 H667.10 M406.50 41.13 H402.70 M663.30 41.13 H667.10 M406.50 33.86 H402.70 M663.30 33.86 H667.10 M406.50 27.93 H402.70 M663.30 27.93 H667.10 M406.50 22.91 H402.70 M663.30 22.91 H667.10 M406.50 18.56 H402.70 M663.30 18.56 H667.10 M406.50 14.73 H402.70 M663.30 14.73 H667.10 M406.50 11.30 H400.50 M663.30 11.30 H669.30" stroke="#000" stroke-width="1.5" fill="none"/>
<text transform="translate(395.20 239.75) scale(1 1.100)" font-size="8.9" font-weight="bold" text-anchor="end">0.1</text>
<text transform="translate(395.20 164.80) scale(1 1.100)" font-size="8.9" font-weight="bold" text-anchor="end">1</text>
<text transform="translate(395.20 89.85) scale(1 1.100)" font-size="8.9" font-weight="bold" text-anchor="end">10</text>
<text transform="translate(395.20 14.90) scale(1 1.100)" font-size="8.9" font-weight="bold" text-anchor="end">100</text>
<text transform="translate(404.00 286.40) scale(1 1.200)" font-size="8.4" font-weight="bold" text-anchor="start">10</text>
<text transform="translate(414.10 279.20) scale(1 1.160)" font-size="5.6" font-weight="bold" text-anchor="start">0</text>
<text transform="translate(453.70 286.40) scale(1 1.200)" font-size="8.4" font-weight="bold" text-anchor="start">10</text>
<text transform="translate(463.80 279.20) scale(1 1.160)" font-size="5.6" font-weight="bold" text-anchor="start">1</text>
<text transform="translate(503.40 286.40) scale(1 1.200)" font-size="8.4" font-weight="bold" text-anchor="start">10</text>
<text transform="translate(513.50 279.20) scale(1 1.160)" font-size="5.6" font-weight="bold" text-anchor="start">2</text>
<text transform="translate(553.10 286.40) scale(1 1.200)" font-size="8.4" font-weight="bold" text-anchor="start">10</text>
<text transform="translate(563.20 279.20) scale(1 1.160)" font-size="5.6" font-weight="bold" text-anchor="start">3</text>
<text transform="translate(602.80 286.40) scale(1 1.200)" font-size="8.4" font-weight="bold" text-anchor="start">10</text>
<text transform="translate(612.90 279.20) scale(1 1.160)" font-size="5.6" font-weight="bold" text-anchor="start">4</text>
<text transform="translate(652.50 286.40) scale(1 1.200)" font-size="8.4" font-weight="bold" text-anchor="start">10</text>
<text transform="translate(662.60 279.20) scale(1 1.160)" font-size="5.6" font-weight="bold" text-anchor="start">5</text>
<text x="437.6" y="299" font-size="9.5" font-weight="bold">Organic aerosol concentration (C<tspan font-size="7.5" dy="2.2">oa</tspan><tspan dy="-2.2">), µg m</tspan><tspan font-size="6.4" dy="-5.6" dx="1.2">-3</tspan></text>
<text transform="translate(353.6 228.7) rotate(-90)" font-size="9.5" font-weight="bold">Primary Organic Aerosol Emission Factor</text>
<text transform="translate(369.8 179.5) rotate(-90)" font-size="9.5" font-weight="bold">EF<tspan font-size="5.8" dy="2">POA</tspan><tspan dy="-2"> (g kg of fuel</tspan><tspan font-size="6.4" dy="-6.2" dx="1.5">-1</tspan><tspan dy="6.2" dx="1.2">)</tspan></text>
<text x="410.80" y="19.90" font-size="8.2" font-weight="bold" text-anchor="start" >B)</text>
<text x="424.3" y="25.3" font-size="8.2" font-weight="bold">Typical ambient C<tspan font-size="6" dy="1.8">OA</tspan></text>
<line x1="576.1" y1="219.80" x2="591.2" y2="219.80" stroke="#2ecf78" stroke-width="1.7"/>
<text x="594.70" y="222.80" font-size="8.2" font-weight="bold" text-anchor="start" >burnhut</text>
<line x1="576.1" y1="229.45" x2="591.2" y2="229.45" stroke="#0c0cd8" stroke-width="1.7"/>
<text x="594.70" y="232.45" font-size="8.2" font-weight="bold" text-anchor="start" >field</text>
<line x1="576.1" y1="239.10" x2="591.2" y2="239.10" stroke="#ffaa22" stroke-width="1.7"/>
<text x="594.70" y="242.10" font-size="8.2" font-weight="bold" text-anchor="start" >RWC - startup</text>
<line x1="576.1" y1="248.75" x2="591.2" y2="248.75" stroke="#ff5a1e" stroke-width="1.7"/>
<text x="594.70" y="251.75" font-size="8.2" font-weight="bold" text-anchor="start" >RWC - high fire</text></svg></body></html>
